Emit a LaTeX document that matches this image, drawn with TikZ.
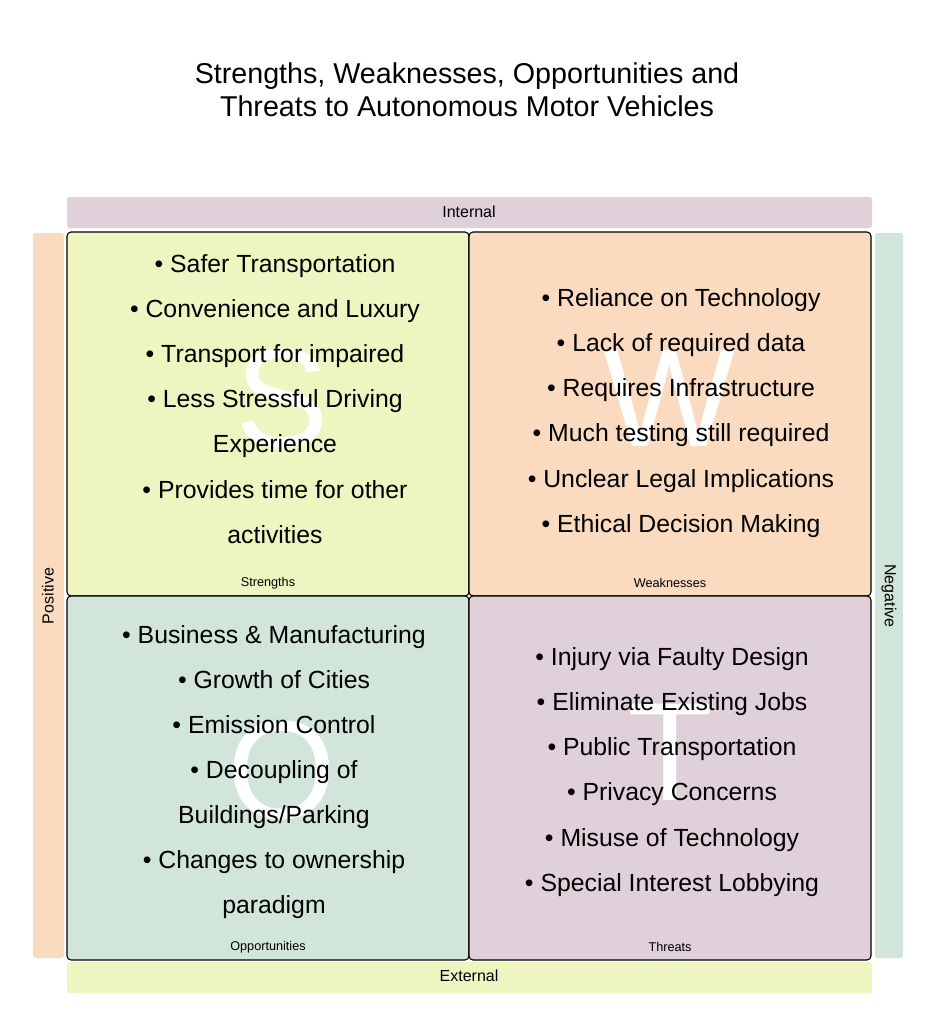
\documentclass[tikz,border=0pt]{standalone}
\usepackage{fontspec}
\setmainfont{Liberation Sans}
\definecolor{cS}{HTML}{EEF5C0}
\definecolor{cW}{HTML}{FADBC0}
\definecolor{cO}{HTML}{D1E5DA}
\definecolor{cT}{HTML}{E0D0DA}
\begin{document}
\begin{tikzpicture}[x=0.75pt,y=-0.75pt,
  bar/.style={rounded corners=2pt},
  quad/.style={draw=black,line width=0.8pt,rounded corners=3pt},
  big/.style={text=white,font=\fontsize{105}{105}\selectfont},
  items/.style={align=center,font=\fontsize{18.6}{33.8}\selectfont},
  lbl/.style={font=\fontsize{9.5}{11}\selectfont},
  side/.style={font=\fontsize{12}{14}\selectfont}]
\useasboundingbox (0,0) rectangle (935,1025);
\node[font=\fontsize{21.5}{25}\selectfont,align=center] (title) at (467,90) {Strengths, Weaknesses, Opportunities and\\Threats to Autonomous Motor Vehicles};
\fill[cT,bar] (67,197) rectangle (872,228);
\node[side] (int) at (469,212) {Internal};
\fill[cS,bar] (67,962) rectangle (872,993);
\node[side] (ext) at (469,976) {External};
\fill[cW,bar] (33,233) rectangle (64,958);
\node[side,rotate=90] (pos) at (48,596) {Positive};
\fill[cO,bar] (875,233) rectangle (903,958);
\node[side,rotate=-90] (neg) at (889,596) {Negative};
\draw[quad,fill=cS] (67,232) rectangle (469,596);
\draw[quad,fill=cW] (469,232) rectangle (871,596);
\draw[quad,fill=cO] (67,596) rectangle (469,960);
\draw[quad,fill=cT] (469,596) rectangle (871,960);
\node[big] (S) at (282,398) {S};
\node[big] (W) at (670,398) {W};
\node[big] (O) at (282,770) {O};
\node[big] (T) at (670,752) {T};
\node[items] (si) at (275,399) {• Safer Transportation\\• Convenience and Luxury\\• Transport for impaired\\• Less Stressful Driving\\Experience\\• Provides time for other\\activities};
\node[items] (wi) at (681,413) {• Reliance on Technology\\• Lack of required data\\• Requires Infrastructure\\• Much testing still required\\• Unclear Legal Implications\\• Ethical Decision Making};
\node[items] (oi) at (274,772) {• Business \& Manufacturing\\• Growth of Cities\\• Emission Control\\• Decoupling of\\Buildings/Parking\\• Changes to ownership\\paradigm};
\node[items] (ti) at (672,772) {• Injury via Faulty Design\\• Eliminate Existing Jobs\\• Public Transportation\\• Privacy Concerns\\• Misuse of Technology\\• Special Interest Lobbying};
\node[lbl] (ls) at (268,583) {Strengths};
\node[lbl] (lw) at (670,583) {Weaknesses};
\node[lbl] (lo) at (268,947) {Opportunities};
\node[lbl] (lt) at (670,947) {Threats};
\end{tikzpicture}
\end{document}
